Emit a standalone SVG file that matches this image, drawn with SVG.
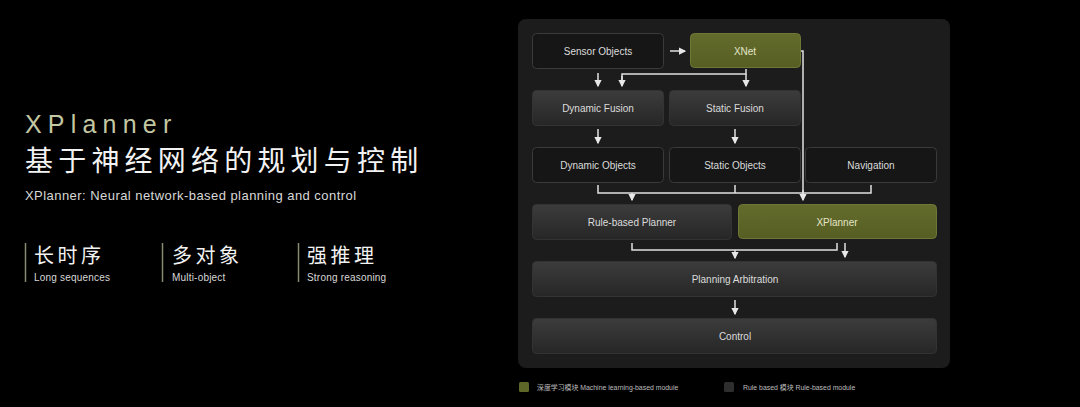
<svg xmlns="http://www.w3.org/2000/svg" width="1080" height="407" viewBox="0 0 1080 407">
<defs>
<linearGradient id="gGrey" x1="0" y1="0" x2="0" y2="1">
<stop offset="0" stop-color="#3c3c3c"/>
<stop offset="1" stop-color="#262626"/>
</linearGradient>
<linearGradient id="gOlive" x1="0" y1="0" x2="0" y2="1">
<stop offset="0" stop-color="#636b2c"/>
<stop offset="1" stop-color="#565e23"/>
</linearGradient>
<marker id="ah" viewBox="0 0 6 6" refX="5" refY="3" markerWidth="5" markerHeight="5" orient="auto">
<path d="M0,0 L6,3 L0,6 z" fill="#e8e8e8"/>
</marker>
<style>
.dark{fill:#161616;stroke:#3a3a3a;stroke-width:1}
.grey{fill:url(#gGrey);stroke:#333;stroke-width:1}
.olive{fill:url(#gOlive);stroke:#6e7736;stroke-width:1}
.lbl{font-family:"Liberation Sans",Arial,sans-serif;font-size:10px;fill:#dcdcdc;text-anchor:middle}
.olbl{font-family:"Liberation Sans",Arial,sans-serif;font-size:10px;fill:#e4e6c8;text-anchor:middle}
.ln{fill:none;stroke:#e0e0e0;stroke-width:1.5}
.ar{fill:none;stroke:#e0e0e0;stroke-width:1.5;marker-end:url(#ah)}
.zh{font-family:"Noto Sans CJK SC",sans-serif;fill:#f2f2f2}
.en{font-family:"Liberation Sans",Arial,sans-serif;fill:#d8d8d8}
.bar{stroke:#8a8a70;stroke-width:1.5}
</style>
</defs>
<rect width="1080" height="407" fill="#000"/>

<g id="left-text">
<text x="25" y="133" font-family="Liberation Sans,Arial,sans-serif" font-size="25" letter-spacing="6.2" fill="#c3c8a2">XPlanner</text>
<text class="zh" x="25" y="171" font-size="28" letter-spacing="5.2">基于神经网络的规划与控制</text>
<text class="en" x="25" y="200" font-size="13" letter-spacing="0.45">XPlanner: Neural network-based planning and control</text>
<line class="bar" x1="25.5" y1="243" x2="25.5" y2="282"/>
<text class="zh" x="34" y="263" font-size="20" letter-spacing="3.5">长时序</text>
<text class="en" x="34" y="281" font-size="10" fill="#bdbdbd" letter-spacing="0.2">Long sequences</text>
<line class="bar" x1="162.5" y1="243" x2="162.5" y2="282"/>
<text class="zh" x="172" y="263" font-size="20" letter-spacing="3.5">多对象</text>
<text class="en" x="172" y="281" font-size="10" fill="#bdbdbd" letter-spacing="0.2">Multi-object</text>
<line class="bar" x1="298.5" y1="243" x2="298.5" y2="282"/>
<text class="zh" x="307" y="263" font-size="20" letter-spacing="3.5">强推理</text>
<text class="en" x="307" y="281" font-size="10" fill="#bdbdbd" letter-spacing="0.2">Strong reasoning</text>
</g>

<rect id="panel" x="518" y="19" width="432" height="349" rx="8" fill="#1c1c1c"/>

<g id="connectors">
<line class="ar" x1="670" y1="51" x2="685" y2="51"/>
<line class="ar" x1="598" y1="73" x2="598" y2="86"/>
<polyline class="ln" points="622,86 622,74 746,74 746,69"/>
<line class="ar" x1="622" y1="76" x2="622" y2="86"/>
<line class="ar" x1="746" y1="74" x2="746" y2="86"/>
<polyline class="ln" points="800,51 803,51 803,196"/>
<line class="ar" x1="803" y1="190" x2="803" y2="200"/>
<line class="ar" x1="598" y1="129" x2="598" y2="143"/>
<line class="ar" x1="735" y1="129" x2="735" y2="143"/>
<polyline class="ln" points="598,185 598,193 871,193 871,185"/>
<line class="ln" x1="735" y1="185" x2="735" y2="193"/>
<line class="ar" x1="632" y1="193" x2="632" y2="200"/>
<polyline class="ln" points="632,243 632,250 837,250 837,243"/>
<line class="ar" x1="735" y1="250" x2="735" y2="258"/>
<line class="ar" x1="845" y1="243" x2="845" y2="257"/>
<line class="ar" x1="735" y1="300" x2="735" y2="314"/>
</g>

<g id="n-sensor"><rect class="dark" x="532.5" y="33.5" width="131" height="35" rx="4"/><text class="lbl" x="598" y="54.5">Sensor Objects</text></g>
<g id="n-xnet"><rect class="olive" x="690.5" y="33.5" width="110" height="34" rx="4"/><text class="olbl" x="745" y="54.5">XNet</text></g>
<g id="n-dynfusion"><rect class="grey" x="532.5" y="90.5" width="131" height="35" rx="4"/><text class="lbl" x="598" y="111.5">Dynamic Fusion</text></g>
<g id="n-statfusion"><rect class="grey" x="669.5" y="90.5" width="131" height="35" rx="4"/><text class="lbl" x="735" y="111.5">Static Fusion</text></g>
<g id="n-dynobj"><rect class="dark" x="532.5" y="147.5" width="131" height="35" rx="4"/><text class="lbl" x="598" y="168.5">Dynamic Objects</text></g>
<g id="n-statobj"><rect class="dark" x="669.5" y="147.5" width="131" height="35" rx="4"/><text class="lbl" x="735" y="168.5">Static Objects</text></g>
<g id="n-nav"><rect class="dark" x="805.5" y="147.5" width="131" height="35" rx="4"/><text class="lbl" x="871" y="168.5">Navigation</text></g>
<g id="n-rbp"><rect class="grey" x="532.5" y="204.5" width="199" height="35" rx="4"/><text class="lbl" x="632" y="225.5">Rule-based Planner</text></g>
<g id="n-xplanner"><rect class="olive" x="738.5" y="204.5" width="198" height="34" rx="4"/><text class="olbl" x="837" y="225.5">XPlanner</text></g>
<g id="n-arb"><rect class="grey" x="532.5" y="261.5" width="404" height="35" rx="4"/><text class="lbl" x="735" y="282.5">Planning Arbitration</text></g>
<g id="n-control"><rect class="grey" x="532.5" y="318.5" width="404" height="35" rx="4"/><text class="lbl" x="735" y="339.5">Control</text></g>

<g id="legend">
<rect x="519" y="382" width="10" height="10" rx="1.5" fill="#5e6728"/>
<text x="537" y="390" font-family="Liberation Sans,Noto Sans CJK SC,sans-serif" font-size="6.9" fill="#bdbdbd">深度学习模块 Machine learning-based module</text>
<rect x="724" y="382" width="10" height="10" rx="1.5" fill="#2e2e2e"/>
<text x="743" y="390" font-family="Liberation Sans,Noto Sans CJK SC,sans-serif" font-size="6.9" fill="#bdbdbd">Rule based 模块 Rule-based module</text>
</g>
</svg>
